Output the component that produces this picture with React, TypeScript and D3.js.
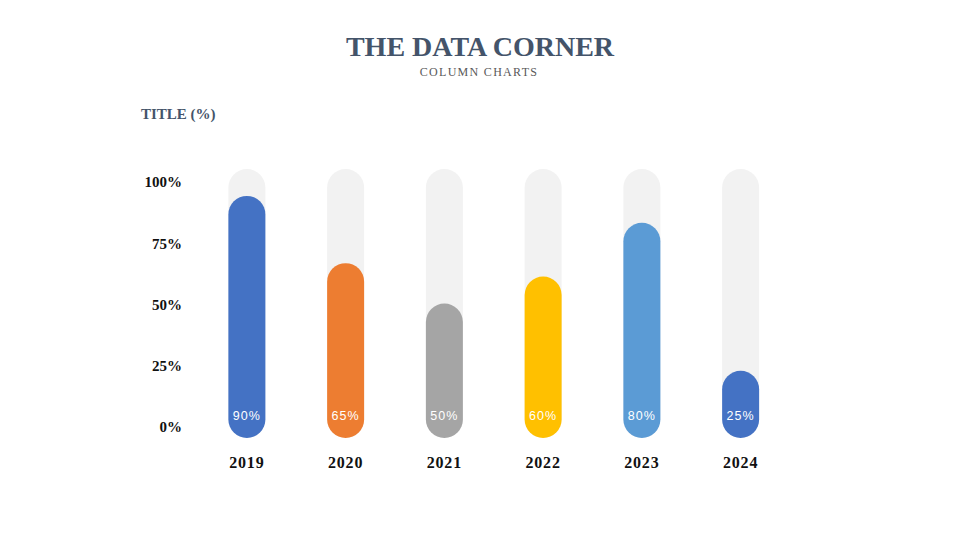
import * as d3 from 'd3';
import { useEffect, useRef } from 'react';

const years = ['2019', '2020', '2021', '2022', '2023', '2024'];
const values = [90, 65, 50, 60, 80, 25];
const colors = ['#4472C4', '#ED7D31', '#A5A5A5', '#FFC000', '#5B9BD5', '#4472C4'];
const yTicks = [0, 25, 50, 75, 100];

const Chart = () => {
  const svgRef = useRef<SVGSVGElement | null>(null);

  useEffect(() => {
    const width = 960;
    const height = 540;
    const barWidth = 37;

    const svg = d3.select(svgRef.current)
      .attr('width', width)
      .attr('height', height);

    svg.selectAll('*').remove();

    // Column positions
    const x = d3.scaleBand<string>()
      .domain(years)
      .range([197.5, 790])
      .paddingInner(0.62)
      .paddingOuter(0.31);

    // Pill scale (rounded caps included) and tick label scale
    const y = d3.scaleLinear().domain([0, 100]).range([438, 169]);
    const yAxis = d3.scaleLinear().domain([0, 100]).range([427, 182]);

    const cx = (d: string) => x(d)! + x.bandwidth() / 2;

    // Headings
    svg.append('text')
      .attr('x', 480).attr('y', 56)
      .attr('text-anchor', 'middle')
      .attr('font-family', '"Liberation Serif", serif')
      .attr('font-weight', 'bold')
      .attr('font-size', 28)
      .attr('fill', '#44546A')
      .text('THE DATA CORNER');

    svg.append('text')
      .attr('x', 479).attr('y', 76)
      .attr('text-anchor', 'middle')
      .attr('font-family', '"Liberation Serif", serif')
      .attr('font-size', 12)
      .attr('letter-spacing', 1.3)
      .attr('fill', '#595959')
      .text('COLUMN CHARTS');

    svg.append('text')
      .attr('x', 141).attr('y', 119)
      .attr('font-family', '"Liberation Serif", serif')
      .attr('font-weight', 'bold')
      .attr('font-size', 15)
      .attr('fill', '#44546A')
      .text('TITLE (%)');

    // Y tick labels
    svg.append('g')
      .selectAll('text')
      .data(yTicks)
      .join('text')
      .attr('x', 182)
      .attr('y', (d) => yAxis(d))
      .attr('dy', '0.35em')
      .attr('text-anchor', 'end')
      .attr('font-family', '"Liberation Serif", serif')
      .attr('font-weight', 'bold')
      .attr('font-size', 15)
      .attr('fill', '#111')
      .text((d) => `${d}%`);

    const cols = svg.append('g')
      .selectAll('g')
      .data(years)
      .join('g');

    // Background track
    cols.append('rect')
      .attr('x', (d) => cx(d) - barWidth / 2)
      .attr('y', y(100))
      .attr('width', barWidth)
      .attr('height', y(0) - y(100))
      .attr('rx', barWidth / 2)
      .attr('fill', '#F2F2F2');

    // Filled value
    cols.append('rect')
      .attr('x', (d) => cx(d) - barWidth / 2)
      .attr('y', (_, i) => y(values[i]))
      .attr('width', barWidth)
      .attr('height', (_, i) => y(0) - y(values[i]))
      .attr('rx', barWidth / 2)
      .attr('fill', (_, i) => colors[i]);

    // Value labels inside the bars
    cols.append('text')
      .attr('x', (d) => cx(d))
      .attr('y', 420)
      .attr('text-anchor', 'middle')
      .attr('font-family', '"Liberation Sans", sans-serif')
      .attr('font-size', 12.5)
      .attr('letter-spacing', 1)
      .attr('fill', '#fff')
      .text((_, i) => `${values[i]}%`);

    // Year labels
    cols.append('text')
      .attr('x', (d) => cx(d))
      .attr('y', 468)
      .attr('text-anchor', 'middle')
      .attr('font-family', '"Liberation Serif", serif')
      .attr('font-weight', 'bold')
      .attr('font-size', 16)
      .attr('letter-spacing', 0.8)
      .attr('fill', '#111')
      .text((d) => d);
  }, []);

  return <svg ref={svgRef} style={{ position: 'absolute', left: 0, top: 0, display: 'block' }}></svg>;
};

export default function App() {
  return <Chart />;
}
